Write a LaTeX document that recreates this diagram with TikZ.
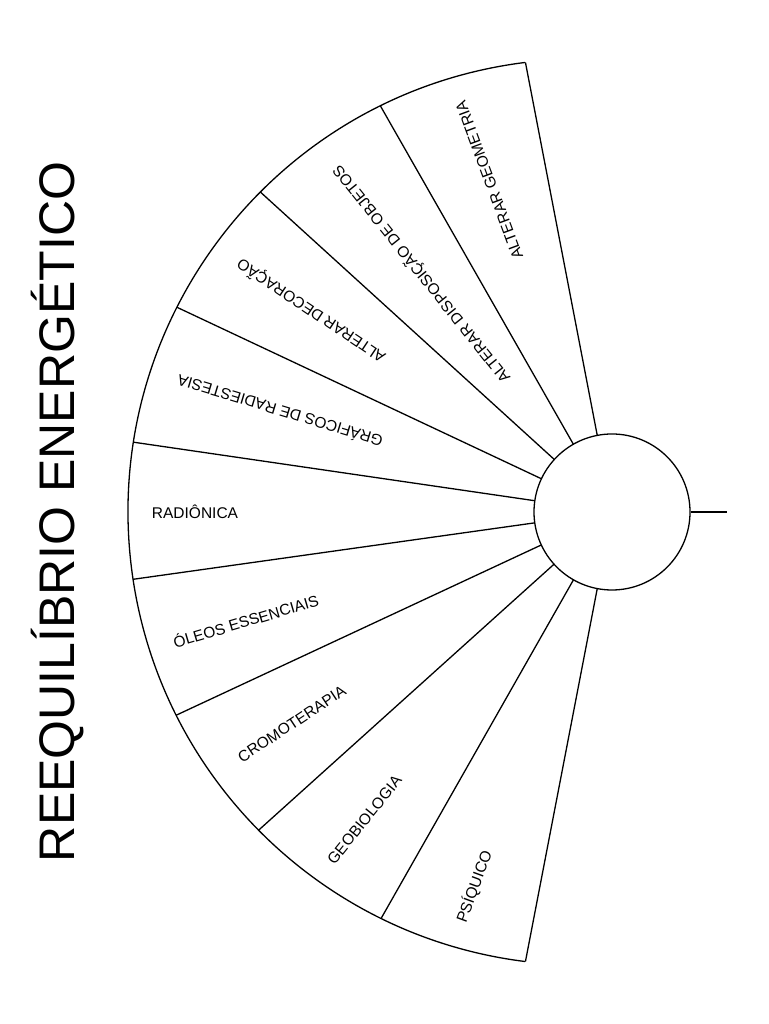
\documentclass[tikz,border=0pt]{standalone}
\usepackage{fontspec}
\setmainfont{Liberation Sans}
\usetikzlibrary{calc}
\begin{document}
\begin{tikzpicture}[x=1pt,y=1pt,line width=1.3pt,
  lab/.style={font=\fontsize{15.5}{17}\selectfont,inner sep=0pt}]
\useasboundingbox (0,0) rectangle (768,1024);
\coordinate (C1) at (612,512);
\coordinate (C2) at (581,512);
\begin{scope}
\clip (C2) circle (453);
\foreach \a in {100.9,119.7,137.7,154.8,171.7,188,205,222,240.4,259.1}
  \draw ($(C1)+(\a:78)$) -- ($(C1)+(\a:600)$);
\end{scope}
\draw ($(C2)+(97.1:453)$) arc[start angle=97.1,end angle=262.9,radius=453];
\node[draw,circle,minimum size=156pt,inner sep=0pt,line width=1.3pt] (hub) at (C1) {};
\coordinate (tick) at (727,512);
\draw (hub.east) -- (tick);
\node[lab,rotate=110.3] (l1) at ($(C1)+(110.3:354)$) {ALTERAR GEOMETRIA};
\node[lab,rotate=128.7] (l2) at ($(C1)+(128.7:305)$) {ALTERAR DISPOSIÇÃO DE OBJETOS};
\node[lab,rotate=146.2] (l3) at ($(C1)+(146.2:362)$) {ALTERAR DECORAÇÃO};
\node[lab,rotate=163.2] (l4) at ($(C1)+(163.2:347)$) {GRÁFICOS DE RADIESTESIA};
\node[lab,rotate=0] (l5) at ($(C1)+(180:417)$) {RADIÔNICA};
\node[lab,rotate=16.5] (l6) at ($(C1)+(196.5:382)$) {ÓLEOS ESSENCIAIS};
\node[lab,rotate=33.5] (l7) at ($(C1)+(213.5:384)$) {CROMOTERAPIA};
\node[lab,rotate=51.2] (l8) at ($(C1)+(231.2:395)$) {GEOBIOLOGIA};
\node[lab,rotate=69.8] (l9) at ($(C1)+(249.8:399)$) {PSÍQUICO};
\node[rotate=90,inner sep=0pt,font=\fontsize{50}{54}\selectfont] (title) at (58,512) {REEQUILÍBRIO ENERGÉTICO};
\end{tikzpicture}
\end{document}
